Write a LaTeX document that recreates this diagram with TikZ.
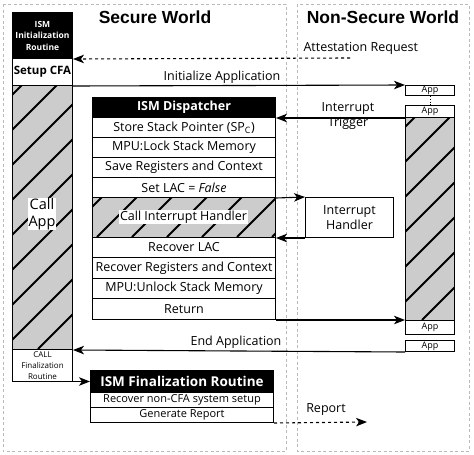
\documentclass[tikz,border=0pt]{standalone}
\usepackage{fontspec}
\setmainfont{Open Sans}
\newfontfamily\titlefont{Liberation Sans}
\usetikzlibrary{arrows.meta}

% grey box with thick diagonal stripes, corners given top-left / bottom-right
\newcommand{\hatchbox}[4]{%
  \fill[gray!40] (#1,#2) rectangle (#3,#4);
  \begin{scope}
    \clip (#1,#2) rectangle (#3,#4);
    \foreach \hh in {10,45,...,710}
      \draw[hatch] (#1+\hh-#4+#2,#4) -- (#1+\hh,#2);
  \end{scope}}

\begin{document}
\begin{tikzpicture}[x = 1pt, y = -1pt,
    box/.style = {draw, line width = 1pt, inner sep = 0pt, anchor = north west, align = center},
    head/.style = {box, fill = black, text = white, font = \bfseries\fontsize{12.5}{15}\selectfont},
    row/.style = {box, minimum width = 183, minimum height = 20, font = \fontsize{12.5}{15}\selectfont},
    appbox/.style = {box, fill = white, minimum width = 49, font = \fontsize{9}{9}\selectfont},
    world/.style = {draw = gray!55, line width = .9pt, dash pattern = on 3pt off 2.5pt},
    title/.style = {font = \titlefont\bfseries\fontsize{17.5}{20}\selectfont},
    label/.style = {font = \fontsize{12.5}{14.5}\selectfont, align = center},
    hatch/.style = {line width = 1.8pt},
    arr/.style = {line width = 1.1pt, -{Stealth[length = 11pt, width = 8.5pt, inset = 3pt]}}]
	\useasboundingbox (0,0) rectangle (474,455);

	% the two worlds
	\draw[world] (3,4) rectangle (286,451);
	\draw[world] (297,4) rectangle (469,451);
	\node[title] (secure) at (155,17) {Secure World};
	\node[title] (nonsecure) at (383,17) {Non-Secure World};

	% left column
	\node[head, minimum width = 60, minimum height = 46, font = \bfseries\fontsize{8.5}{11.5}\selectfont] (init) at (12,12) {ISM\\Initialization\\Routine};
	\node[box, minimum width = 60, minimum height = 27, font = \bfseries\fontsize{11.5}{13}\selectfont] (setup) at (12,58) {Setup CFA};
	\hatchbox{12}{85}{72}{349}
	\node[box, minimum width = 60, minimum height = 264] (callapp) at (12,85) {};
	\node[fill = white, inner sep = .5pt, align = center, font = \fontsize{14.5}{16.5}\selectfont] (callapptext) at (42,214) {Call\\App};
	\node[box, minimum width = 60, minimum height = 32, font = \fontsize{8}{11}\selectfont] (callfin) at (12,349) {CALL\\Finalization\\Routine};

	% ISM dispatcher
	\node[head, minimum width = 183, minimum height = 20] (disp) at (92,97) {ISM Dispatcher};
	\node[row] (sp) at (92,117) {Store Stack Pointer (SP\textsubscript{C})};
	\node[row] (lock) at (92,137) {MPU:Lock Stack Memory};
	\node[row] (save) at (92,157) {Save Registers and Context};
	\node[row] (setlac) at (92,177) {Set LAC = \textit{False}};
	\hatchbox{92}{197}{275}{237}
	\node[row, minimum height = 40] (callint) at (92,197) {};
	\node[fill = white, inner sep = 1pt, font = \fontsize{12.5}{15}\selectfont] (callinttext) at (183.5,217) {Call Interrupt Handler};
	\node[row] (reclac) at (92,237) {Recover LAC};
	\node[row, minimum height = 21] (recreg) at (92,257) {Recover Registers and Context};
	\node[row] (unlock) at (92,278) {MPU:Unlock Stack Memory};
	\node[row, minimum height = 21] (ret) at (92,298) {Return};

	% interrupt handler
	\node[box, minimum width = 88, minimum height = 40, font = \fontsize{12.5}{15}\selectfont] (handler) at (305,197) {Interrupt\\Handler};

	% ISM finalization
	\node[head, minimum width = 183, minimum height = 22, font = \bfseries\fontsize{13.5}{15}\selectfont] (fin) at (90,370) {ISM Finalization Routine};
	\node[box, minimum width = 183, minimum height = 15, font = \fontsize{11}{12}\selectfont] (recover) at (90,392) {Recover non-CFA system setup};
	\node[box, minimum width = 183, minimum height = 15, font = \fontsize{11}{12}\selectfont] (report) at (90,407) {Generate Report};

	% application column
	\node[appbox, minimum height = 10] (app1) at (405,85) {App};
	\node[appbox, minimum height = 12] (app2) at (405,105) {App};
	\hatchbox{405}{117}{454}{320}
	\node[box, minimum width = 49, minimum height = 203] (appx) at (405,117) {};
	\node[appbox, minimum height = 14] (app3) at (405,320) {App};
	\node[appbox, minimum height = 11] (app4) at (405,340) {App};
	\draw[dotted, line width = .8pt] (app1.south) -- (app2.north);

	% connectors
	\coordinate (attstart) at (350,58);
	\coordinate (reportend) at (367,422);
	\draw[arr, dashed] (attstart) -- (init.south east);
	\node[label, anchor = west] (attlabel) at (300,48) {Attestation Request};
	\draw[arr] (setup.south east) -- (app1.north west);
	\node[label] (initlabel) at (222,77) {Initialize Application};
	\draw[arr] (app2.south west) -- (disp.south east);
	\node[label] (triglabel) at (348,116) {Interrupt\\Trigger};
	\draw[arr] (setlac.south east) -- (handler.north west);
	\draw[arr] (handler.south west) -- (callint.south east);
	\draw[arr] (ret.south east) -- (app3.north west);
	\draw[arr] (app4.south west) -- (callapp.south east);
	\node[label] (endlabel) at (236,342) {End Application};
	\draw[arr] (fin.west -| callfin.east) -- (fin.west);
	\draw[arr, dashed] (report.south east) -- (reportend);
	\node[label] (reportlabel) at (326,410) {Report};
\end{tikzpicture}
\end{document}
